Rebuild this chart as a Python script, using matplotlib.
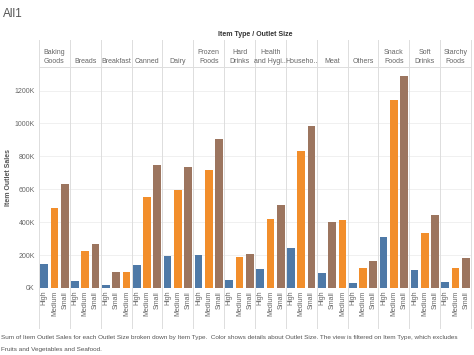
import matplotlib
matplotlib.use("Agg")
import matplotlib.pyplot as plt
from matplotlib.transforms import blended_transform_factory
from matplotlib.ticker import FuncFormatter

plt.rcParams['font.family'] = ['Liberation Sans', 'DejaVu Sans']

item_types = ["Baking\nGoods", "Breads", "Breakfast", "Canned", "Dairy",
              "Frozen\nFoods", "Hard\nDrinks", "Health\nand Hygi..", "Househo..",
              "Meat", "Others", "Snack\nFoods", "Soft\nDrinks", "Starchy\nFoods"]
size_order = [["High", "Medium", "Small"], ["High", "Medium", "Small"],
              ["High", "Small", "Medium"], ["High", "Medium", "Small"],
              ["High", "Medium", "Small"], ["High", "Medium", "Small"],
              ["High", "Medium", "Small"], ["High", "Medium", "Small"],
              ["High", "Medium", "Small"], ["High", "Small", "Medium"],
              ["High", "Medium", "Small"], ["High", "Medium", "Small"],
              ["High", "Medium", "Small"], ["High", "Medium", "Small"]]
# Sales in thousands
high = [146, 45, 20, 138, 193, 201, 49, 114, 244, 91, 28, 307, 110, 39]
medium = [485, 223, 100, 554, 593, 717, 189, 418, 830, 414, 122, 1145, 333, 120]
small = [632, 270, 95, 745, 733, 908, 209, 504, 983, 402, 162, 1287, 443, 181]
y_ticks = [0, 200, 400, 600, 800, 1000, 1200]

colors = {"High": "#4e79a7", "Medium": "#f28e2b", "Small": "#9c755f"}
values = {"High": high, "Medium": medium, "Small": small}

W, H = 474, 355
fig = plt.figure(figsize=(W / 100, H / 100), dpi=100)
L, R, B, T = 39, 471, 288, 67
ax = fig.add_axes([L / W, 1 - B / H, (R - L) / W, (B - T) / H])

n = len(item_types)
tick_pos, tick_lab = [], []
for i in range(n):
    for j, s in enumerate(size_order[i]):
        x = i + (2 * j + 1) / 6
        ax.bar(x, values[s][i] * 1000, width=0.25, color=colors[s], zorder=3)
        tick_pos.append(x)
        tick_lab.append(s)

ax.set_xlim(0, n)
ax.set_ylim(0, 1343000)
ax.set_yticks([v * 1000 for v in y_ticks])
ax.yaxis.set_major_formatter(FuncFormatter(lambda v, p: f"{int(round(v / 1000))}K"))
ax.set_xticks(tick_pos)
ax.set_xticklabels(tick_lab, rotation=90, va='top', ha='center')
ax.tick_params(axis='both', length=0, labelsize=5, colors='#666666')
ax.tick_params(axis='y', pad=3)
ax.tick_params(axis='x', pad=2)
for sp in ax.spines.values():
    sp.set_visible(False)
ax.grid(axis='y', color='#eeeeee', linewidth=0.6, zorder=0)
ax.set_axisbelow(True)

# panel separators
trans = blended_transform_factory(ax.transData, ax.transAxes)
top_frac = (B - 40) / (B - T)
bot_frac = -(328 - B) / (B - T)
for i in range(n + 1):
    ax.plot([i, i], [bot_frac, top_frac], transform=trans, color='#dddddd',
            linewidth=0.7, clip_on=False, zorder=1)
# header bottom line
ax.plot([0, n], [1, 1], transform=trans, color='#dddddd', linewidth=0.7,
        clip_on=False, zorder=1)

# headers
for i, name in enumerate(item_types):
    ax.text(i + 0.5, 1 + 2 / (B - T), name, transform=trans, ha='center',
            va='bottom', fontsize=5, color='#666666', linespacing=1.5)

fig.text(9 / W, 1 - 177 / H, "Item Outlet Sales", rotation=90, ha='center',
         va='center', fontsize=5, color='#555555', fontweight='bold')

fig.text(255 / W, 1 - 35 / H, "Item Type / Outlet Size", ha='center',
         va='center', fontsize=5, fontweight='bold', color='#333333')
fig.text(3 / W, 1 - 14 / H, "All1", ha='left', va='center', fontsize=8.5,
         color='#555555')
fig.text(1 / W, 1 - 338 / H,
         "Sum of Item Outlet Sales for each Outlet Size broken down by Item Type.  "
         "Color shows details about Outlet Size. The view is filtered on Item Type, which excludes",
         ha='left', va='center', fontsize=4.55, color='#555555')
fig.text(1 / W, 1 - 349 / H, "Fruits and Vegetables and Seafood.",
         ha='left', va='center', fontsize=4.55, color='#555555')

fig.savefig("out.png", dpi=100)
